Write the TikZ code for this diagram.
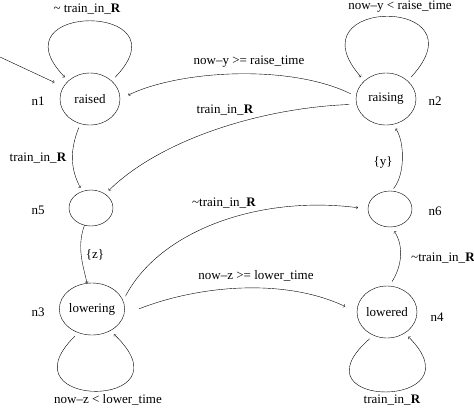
\documentclass[tikz,border=0pt]{standalone}
\usepackage{fontspec}
\setmainfont{Liberation Serif}
\usetikzlibrary{shapes.geometric}
\begin{document}
\begin{tikzpicture}[x=1pt,y=-1pt,
  every node/.style={font=\fontsize{13}{15}\selectfont},
  bigstate/.style={draw, ellipse, inner sep=0pt, minimum width=60pt, minimum height=52pt},
  smallstate/.style={draw, ellipse, inner sep=0pt, minimum width=44pt, minimum height=36pt},
  loop/.style={->, shorten <=5pt, shorten >=5pt}]
\useasboundingbox (0,0) rectangle (474,408);
\node[bigstate] (raised) at (90,99) {raised};
\node[bigstate] (raising) at (386,99) {raising};
\node[smallstate] (n5) at (91,208) {};
\node[smallstate] (n6) at (390,209) {};
\node[bigstate] (lowering) at (92,309) {lowering};
\node[bigstate] (lowered) at (387,312) {lowered};
\node (t1) at (38,101) {n1};
\node (t2) at (435,101) {n2};
\node (t5) at (38,210) {n5};
\node (t6) at (435,211) {n6};
\node (t3) at (38,312) {n3};
\node (t4) at (437,317) {n4};
\coordinate (init) at (0,57);
\draw[->, shorten >=10pt] (init) -- (raised);
\draw[loop] (raised.40) .. controls (188,2) and (-8,2) .. (raised.140);
\node (l1) at (87,9) {\textasciitilde{} train\_in\_\textbf{R}};
\draw[loop] (raising.40) .. controls (486,-4) and (290,-4) .. (raising.140);
\node (l2) at (400,7) {now--y < raise\_time};
\draw[->, shorten <=6pt, shorten >=9pt] (raising.175) .. controls (290,64) and (180,70) .. (raised.east);
\node (l3) at (249,62) {now--y >= raise\_time};
\draw[->, shorten <=7pt, shorten >=5pt] (raising.190) .. controls (260,108) and (160,140) .. (n5);
\node (l4) at (225,110) {train\_in\_\textbf{R}};
\draw[->, shorten <=4pt, shorten >=4pt] (raised) .. controls (70,150) and (70,168) .. (n5);
\node (l5) at (38,158) {train\_in\_\textbf{R}};
\draw[->] (n5) .. controls (76,248) and (84,268) .. (lowering);
\node (l6) at (95,255) {\{z\}};
\draw[->, shorten <=5pt, shorten >=10pt] (lowering.15) .. controls (160,230) and (260,195) .. (n6.west);
\node (l7) at (224,203) {\textasciitilde train\_in\_\textbf{R}};
\draw[->, shorten <=16pt, shorten >=13pt] (lowering.350) .. controls (200,285) and (285,278) .. (lowered.west);
\node (l8) at (256,276) {now--z >= lower\_time};
\draw[->, shorten <=5pt, shorten >=5pt] (lowered.85) .. controls (402,266) and (404,246) .. (n6.275);
\node (l9) at (443,258) {\textasciitilde train\_in\_\textbf{R}};
\draw[->, shorten <=3pt, shorten >=5pt] (n6.85) .. controls (405,175) and (405,142) .. (raising.285);
\node (l10) at (383,162) {\{y\}};
\draw[loop] (lowering.240) .. controls (0,410) and (194,410) .. (lowering.310);
\node (l11) at (108,400) {now--z < lower\_time};
\draw[loop] (lowered.240) .. controls (288,410) and (482,410) .. (lowered.310);
\node (l12) at (392,400) {train\_in\_\textbf{R}};
\end{tikzpicture}
\end{document}
